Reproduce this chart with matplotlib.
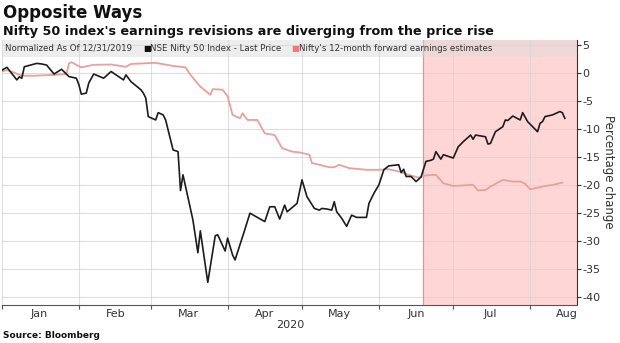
import numpy as np
import pandas as pd
import matplotlib
matplotlib.use("Agg")
import matplotlib.pyplot as plt
import matplotlib.dates as mdates
from matplotlib.patches import Rectangle

plt.rcParams["axes.unicode_minus"] = False

# ── data, x = days after 2020-01-01 ───────────────────────────────────────────
nifty_day = [0, 2, 6, 7, 8, 9, 14, 16, 18, 21, 24, 27, 30, 31, 32, 34, 35, 37,
             41, 44, 46, 49, 50, 52, 56, 57, 58, 59, 62, 63, 65, 66, 69, 71,
             72, 73, 77, 79, 80, 83, 86, 87, 90, 91, 93, 94, 98, 100, 106,
             108, 110, 112, 114, 115, 119, 121, 123, 126, 128, 129, 131, 133,
             134, 135, 137, 139, 141, 143, 147, 148, 150, 152, 154, 156, 160,
             161, 162, 163, 165, 167, 169, 171, 173, 174, 175, 177, 178, 182,
             184, 186, 189, 190, 191, 195, 196, 197, 199, 202, 203, 204, 206,
             209, 210, 212, 216, 217, 218, 219, 222, 225, 226, 227]
nifty_chg = [0.5, 1.0, -1.25, -0.7, -0.95, 1.1, 1.7, 1.6, 1.4, -0.2, 0.65,
             -0.65, -0.95, -2.1, -3.8, -3.6, -1.8, -0.2, -0.95, 0.25, -0.35,
             -1.25, -0.35, -1.55, -3.0, -3.6, -4.5, -7.8, -8.4, -7.1, -7.5,
             -8.4, -13.75, -14.05, -21.0, -18.2, -26.25, -32.1, -28.2, -37.4,
             -29.1, -28.9, -31.8, -29.5, -32.5, -33.4, -27.9, -25.05, -26.55,
             -23.9, -23.9, -26.1, -23.6, -24.8, -23.3, -19.1, -22.1, -24.2,
             -24.5, -24.2, -24.3, -24.5, -23.0, -24.8, -25.95, -27.4, -25.4,
             -25.8, -25.8, -23.3, -21.5, -20.0, -17.3, -16.6, -16.4, -17.8,
             -17.2, -18.5, -18.5, -19.4, -18.6, -15.8, -15.6, -15.4, -14.05,
             -15.4, -14.6, -15.2, -13.2, -12.3, -11.1, -11.85, -11.1, -11.4,
             -12.7, -12.6, -10.5, -9.6, -8.4, -8.5, -7.7, -8.4, -7.1, -8.7,
             -10.5, -9.0, -8.7, -7.8, -7.5, -6.9, -7.1, -8.1]

eps_day = [0, 2, 5, 7, 9, 13, 21, 26, 27, 28, 32, 37, 44, 50, 52, 62, 69, 74,
           76, 80, 84, 85, 89, 91, 93, 96, 97, 99, 103, 106, 110, 113, 117,
           120, 124, 125, 128, 132, 134, 136, 140, 147, 152, 156, 160, 164,
           168, 171, 175, 178, 182, 189, 190, 192, 195, 197, 202, 206, 209,
           211, 213, 216, 219, 222, 226]
eps_chg = [0.25, 0.5, 0.05, -0.35, -0.5, -0.5, -0.35, -0.2, 1.7, 1.9, 1.0,
           1.45, 1.5, 1.1, 1.6, 1.8, 1.25, 1.0, -0.35, -2.45, -3.9, -2.9, -3.0,
           -4.2, -7.5, -8.1, -7.2, -8.4, -8.4, -10.8, -11.1, -13.45, -14.05,
           -14.2, -14.6, -16.1, -16.4, -16.85, -16.85, -16.4, -17.0, -17.3,
           -17.3, -17.2, -17.6, -18.2, -18.7, -18.3, -18.2, -19.7, -20.2,
           -20.0, -20.0, -21.0, -20.9, -20.3, -19.1, -19.4, -19.4, -19.8,
           -20.8, -20.5, -20.2, -20.0, -19.6]

start = pd.Timestamp("2020-01-01")
shade_from = pd.Timestamp("2020-06-19")
y_ticks = list(range(-40, 6, 5))

nifty_x = start + pd.to_timedelta(nifty_day, unit="D")
eps_x = start + pd.to_timedelta(eps_day, unit="D")

# ── figure ───────────────────────────────────────────────────────────────────
fig = plt.figure(figsize=(6.2, 3.43), dpi=100)
ax = fig.add_axes([0.0032, 0.111, 0.927, 0.7726])

x_end = start + pd.Timedelta(days=231.8)
ax.set_xlim(start, x_end)
ax.set_ylim(-41.43, 5.89)

ax.axvspan(shade_from, x_end, color="#ffd6d6", lw=0, zorder=0)
ax.axvline(shade_from, color="#f08c8c", lw=0.9, zorder=1)

ax.plot(eps_x, eps_chg, color="#e8a09e", lw=1.3, zorder=3)
ax.plot(nifty_x, nifty_chg, color="#1c1c1c", lw=1.2, zorder=4)

# axes / ticks
for s in ["top", "left"]:
    ax.spines[s].set_visible(False)
ax.spines["bottom"].set_color("#555555")
ax.spines["right"].set_color("#333333")
ax.spines["bottom"].set_linewidth(0.8)
ax.spines["right"].set_linewidth(0.8)

ax.xaxis.set_major_locator(mdates.MonthLocator())
ax.xaxis.set_major_formatter(plt.NullFormatter())
ax.xaxis.set_minor_locator(mdates.MonthLocator(bymonthday=16))
ax.xaxis.set_minor_formatter(mdates.DateFormatter("%b"))
ax.tick_params(axis="x", which="major", length=3, color="#555555")
ax.tick_params(axis="x", which="minor", length=0, pad=3,
               labelsize=8, labelcolor="#333333")

ax.yaxis.tick_right()
ax.set_yticks(y_ticks)
ax.tick_params(axis="y", length=3, pad=1, labelsize=8,
               color="#333333", labelcolor="#333333")

ax.grid(True, which="major", color="#d6d6d6", lw=0.8, alpha=0.8)
ax.set_axisbelow(True)
for gl in ax.get_xgridlines() + ax.get_ygridlines():
    gl.set_zorder(0.5)

# right-hand axis title
fig.text(608 / 620, 1 - 172 / 343, "Percentage change", rotation=-90,
         ha="center", va="center", fontsize=8.5, color="#333333")

# legend band
ax.add_patch(Rectangle((0, 0.936), 1, 0.064, transform=ax.transAxes,
                       facecolor="#d9d9d9", alpha=0.45, lw=0, zorder=5))
ly = 0.968
ax.text(0.006, ly, "Normalized As Of 12/31/2019", transform=ax.transAxes,
        fontsize=6.2, color="#333333", va="center", zorder=6)
ax.text(0.245, ly, "\u25a0", transform=ax.transAxes, fontsize=6,
        color="#111111", va="center", zorder=6)
ax.text(0.258, ly, "NSE Nifty 50 Index - Last Price", transform=ax.transAxes,
        fontsize=6.2, color="#333333", va="center", zorder=6)
ax.text(0.503, ly, "\u25a0", transform=ax.transAxes, fontsize=6,
        color="#f07878", va="center", zorder=6)
ax.text(0.516, ly, "Nifty's 12-month forward earnings estimates",
        transform=ax.transAxes, fontsize=6.2, color="#333333", va="center",
        zorder=6)

# year label
fig.text(290 / 620, 1 - 325 / 343, "2020", ha="center", va="center",
         fontsize=8, color="#333333")

# titles
fig.text(0.005, 1 - 13 / 343, "Opposite Ways", fontsize=12, weight="bold",
         va="center", color="#111111")
fig.text(0.005, 1 - 31 / 343,
         "Nifty 50 index's earnings revisions are diverging from the price rise",
         fontsize=9.2, weight="bold", va="center", color="#111111")
fig.text(0.005, 1 - 336 / 343, "Source: Bloomberg", fontsize=6.5,
         weight="bold", va="center", color="#111111")

fig.savefig("out.png", dpi=100)
